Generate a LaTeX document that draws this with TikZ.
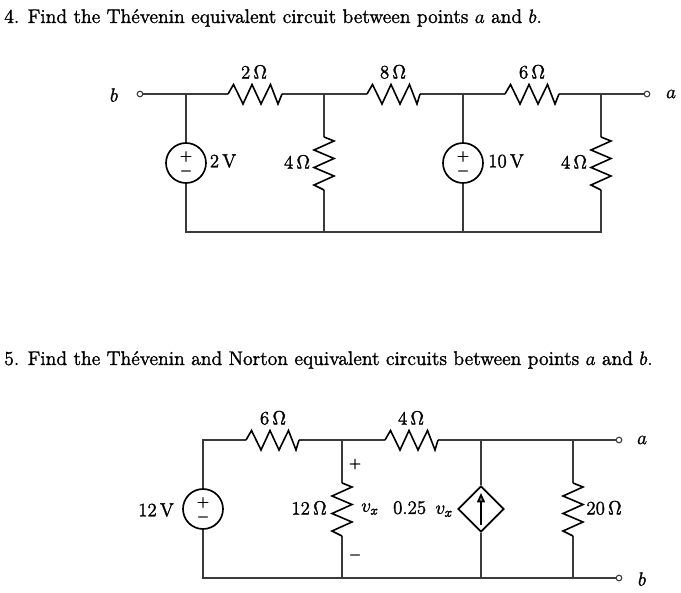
\documentclass[tikz,border=0pt]{standalone}
\usepackage{amsmath}
\usetikzlibrary{arrows.meta,shapes.geometric}
\definecolor{wirec}{HTML}{3A3A3A}
\newcommand{\heavy}[1]{\special{pdf:code q 2 Tr 0.22 w}#1\special{pdf:code Q}}
\tikzset{
 wire/.style={draw=wirec,line width=1.05pt},
 res/.style={draw=black,line width=1.2pt,line join=miter},
 hzig/.style={to path={-- ++(5.5,-9.5) -- ++(9.5,19.5) -- ++(9,-19.5) -- ++(9,19.5) -- ++(9.5,-19.5) -- ++(7.5,19.5) -- (\tikztotarget)}},
 vzig/.style={to path={-- ++(10,4) -- ++(-20,9) -- ++(20,8.5) -- ++(-20,9) -- ++(20,8.5) -- ++(-20,9) -- (\tikztotarget)}},
 src/.style={circle,draw=black,line width=1.25pt,minimum size=30pt,inner sep=0pt},
 dep/.style={diamond,draw=black,line width=1.25pt,minimum width=34.5pt,minimum height=34.5pt,inner sep=0pt,aspect=1},
 term/.style={circle,draw=wirec,line width=.8pt,fill=white,minimum size=4.2pt,inner sep=0pt},
 lab/.style={inner sep=0pt,font=\fontsize{14.2}{16}\selectfont},
 head/.style={anchor=west,inner sep=0pt,font=\fontsize{14.75}{17}\selectfont},
 sign/.style={inner sep=0pt,font=\fontsize{13}{13}\selectfont},
 ctrl/.style={draw=black,line width=1.2pt,-{Stealth[length=7pt,width=6pt,fill=gray,inset=0pt]}},
}
\begin{document}
\begin{tikzpicture}[x=0.75pt,y=-0.75pt]
\useasboundingbox (0,0) rectangle (681,592);
\node[head] (h4) at (4,18) {\heavy{4. Find the Thévenin equivalent circuit between points $a$ and $b$.}};
\node[head] (h5) at (4,360) {\heavy{5. Find the Thévenin and Norton equivalent circuits between points $a$ and $b$.}};
% circuit 1
\node[term] (tb) at (140,94) {};
\node[term] (ta) at (647,94) {};
\coordinate (j1) at (186,94);
\coordinate (r1s) at (228,94);
\coordinate (r1e) at (282,94);
\coordinate (j2) at (324,94);
\coordinate (r2s) at (367,94);
\coordinate (r2e) at (420,94);
\coordinate (j3) at (463,94);
\coordinate (r3s) at (505,94);
\coordinate (r3e) at (559,94);
\coordinate (j4) at (601,94);
\coordinate (b1) at (186,232);
\coordinate (b2) at (324,232);
\coordinate (b3) at (463,232);
\coordinate (b4) at (601,232);
\coordinate (r4s) at (324,137);
\coordinate (r4e) at (324,190);
\coordinate (r5s) at (601,137);
\coordinate (r5e) at (601,190);
\node[src] (s1) at (186,163) {};
\node[src] (s2) at (463,163) {};
\draw[wire] (tb) -- (j1) -- (r1s) (r1e) -- (j2) -- (r2s) (r2e) -- (j3) -- (r3s) (r3e) -- (j4) -- (ta);
\draw[wire] (j1) -- (s1) -- (b1) -- (b2) -- (b3) -- (b4) -- (r5e);
\draw[wire] (j3) -- (s2) -- (b3);
\draw[wire] (j2) -- (r4s) (r4e) -- (b2);
\draw[wire] (j4) -- (r5s);
\draw[res] (r1s) to[hzig] (r1e);
\draw[res] (r2s) to[hzig] (r2e);
\draw[res] (r3s) to[hzig] (r3e);
\draw[res] (r4s) to[vzig] (r4e);
\draw[res] (r5s) to[vzig] (r5e);
\node[sign] (s1p) at (186,156.5) {\heavy{$+$}};
\node[sign] (s1m) at (186,171) {\heavy{$-$}};
\node[sign] (s2p) at (463,156.5) {\heavy{$+$}};
\node[sign] (s2m) at (463,171) {\heavy{$-$}};
\node[lab] (lb) at (114,95) {\heavy{$b$}};
\node[lab] (la) at (671,94) {\heavy{$a$}};
\node[lab] (l1) at (254,72) {\heavy{2\,$\Omega$}};
\node[lab] (l2) at (393,72) {\heavy{8\,$\Omega$}};
\node[lab] (l3) at (532,72) {\heavy{6\,$\Omega$}};
\node[lab] (l4) at (223,161) {\heavy{2\,V}};
\node[lab] (l5) at (297,162) {\heavy{4\,$\Omega$}};
\node[lab] (l6) at (506,161) {\heavy{10\,V}};
\node[lab] (l7) at (574,162) {\heavy{4\,$\Omega$}};
% circuit 2
\node[term] (ta2) at (619,440) {};
\node[term] (tb2) at (619,578) {};
\coordinate (c1) at (203,440);
\coordinate (q1s) at (246,440);
\coordinate (q1e) at (299,440);
\coordinate (c2) at (342,440);
\coordinate (q2s) at (385,440);
\coordinate (q2e) at (438,440);
\coordinate (c3) at (481,440);
\coordinate (c4) at (573,440);
\coordinate (d1) at (203,578);
\coordinate (d2) at (342,578);
\coordinate (d3) at (481,578);
\coordinate (d4) at (573,578);
\coordinate (q3s) at (342,483);
\coordinate (q3e) at (342,536);
\coordinate (q4s) at (573,483);
\coordinate (q4e) at (573,536);
\node[src] (s3) at (203,509) {};
\node[dep] (s4) at (481,509) {};
\coordinate (ar1) at (481,525);
\coordinate (ar2) at (481,493);
\draw[wire] (s3) -- (c1) -- (q1s) (q1e) -- (c2) -- (q2s) (q2e) -- (c3) -- (c4) -- (ta2);
\draw[wire] (s3) -- (d1) -- (d2) -- (d3) -- (d4) -- (tb2);
\draw[wire] (c2) -- (q3s) (q3e) -- (d2);
\draw[wire] (c3) -- (s4) -- (d3);
\draw[wire] (c4) -- (q4s) (q4e) -- (d4);
\draw[res] (q1s) to[hzig] (q1e);
\draw[res] (q2s) to[hzig] (q2e);
\draw[res] (q3s) to[vzig] (q3e);
\draw[res] (q4s) to[vzig] (q4e);
\draw[ctrl] (ar1) -- (ar2);
\node[sign] (s3p) at (203,502.5) {\heavy{$+$}};
\node[sign] (s3m) at (203,517) {\heavy{$-$}};
\node[lab] (m1) at (273,418) {\heavy{6\,$\Omega$}};
\node[lab] (m2) at (411,418) {\heavy{4\,$\Omega$}};
\node[lab] (m3) at (156,510) {\heavy{12\,V}};
\node[lab] (m4) at (309,508) {\heavy{12\,$\Omega$}};
\node[sign] (m5) at (355,464) {\heavy{$+$}};
\node[sign] (m6) at (355,555) {\heavy{$-$}};
\node[lab] (m7) at (370,509) {\heavy{$v_x$}};
\node[lab] (m8) at (423,509) {\heavy{0.25\ \,$v_x$}};
\node[lab] (m9) at (604,508) {\heavy{20\,$\Omega$}};
\node[lab] (m10) at (642,440) {\heavy{$a$}};
\node[lab] (m11) at (642,579) {\heavy{$b$}};
\end{tikzpicture}
\end{document}
